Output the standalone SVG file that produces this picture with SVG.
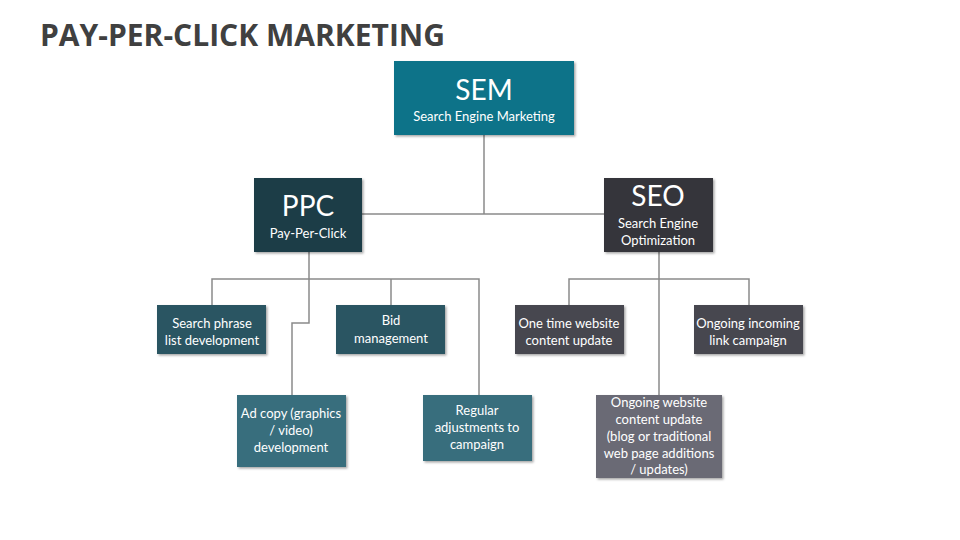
<svg xmlns="http://www.w3.org/2000/svg" width="960" height="540" viewBox="0 0 960 540">
<defs>
<filter id="sh" x="-10%" y="-10%" width="130%" height="130%">
<feDropShadow dx="1.5" dy="1.5" stdDeviation="1.2" flood-color="#000" flood-opacity="0.35"/>
</filter>
<style>
.t{font-family:Lato,"Open Sans",sans-serif;fill:#fff;text-anchor:middle}
.big{font-size:28px}
.sub{font-size:13px}
.c{font-size:13px}
.ln{fill:none;stroke:#8a8a8a;stroke-width:1.5}
.title{font-family:"Open Sans",sans-serif;font-weight:bold;font-size:30px;fill:#404040}
</style>
</defs>
<rect width="960" height="540" fill="#fff"/>
<text class="title" x="40" y="46" textLength="405" lengthAdjust="spacingAndGlyphs">PAY-PER-CLICK MARKETING</text>
<g id="connectors">
<path class="ln" d="M484 135V214M362 214H604"/>
<path class="ln" d="M309 252V323H292V395M212 305V279H479V395M391 279V305"/>
<path class="ln" d="M659 252V395M569 305V279H749V305"/>
</g>
<g id="sem">
<rect x="394" y="61" width="180" height="74" fill="#0d7389" filter="url(#sh)"/>
<text class="t big" x="484" y="100">SEM</text>
<text class="t sub" x="484" y="121">Search Engine Marketing</text>
</g>
<g id="ppc">
<rect x="254" y="178" width="108" height="74" fill="#1e3c46" filter="url(#sh)"/>
<text class="t big" x="308" y="216">PPC</text>
<text class="t sub" x="308" y="238">Pay-Per-Click</text>
</g>
<g id="seo">
<rect x="604" y="178" width="109" height="74" fill="#35353b" filter="url(#sh)"/>
<text class="t big" x="658" y="206">SEO</text>
<text class="t sub" x="658" y="228">Search Engine</text>
<text class="t sub" x="658" y="245">Optimization</text>
</g>
<g id="search-phrase">
<rect x="157" y="305" width="109" height="49" fill="#2a5462" filter="url(#sh)"/>
<text class="t c" x="212" y="328">Search phrase</text>
<text class="t c" x="212" y="345">list development</text>
</g>
<g id="bid">
<rect x="336" y="305" width="109" height="49" fill="#2a5462" filter="url(#sh)"/>
<text class="t c" x="391" y="325">Bid</text>
<text class="t c" x="391" y="343">management</text>
</g>
<g id="ad-copy">
<rect x="237" y="395" width="109" height="72" fill="#376e7d" filter="url(#sh)"/>
<text class="t c" x="291" y="418">Ad copy (graphics</text>
<text class="t c" x="291" y="435">/ video)</text>
<text class="t c" x="291" y="452">development</text>
</g>
<g id="regular">
<rect x="423" y="395" width="109" height="66" fill="#376e7d" filter="url(#sh)"/>
<text class="t c" x="477" y="415">Regular</text>
<text class="t c" x="477" y="432">adjustments to</text>
<text class="t c" x="477" y="449">campaign</text>
</g>
<g id="one-time">
<rect x="515" y="305" width="109" height="49" fill="#47474f" filter="url(#sh)"/>
<text class="t c" x="569" y="328">One time website</text>
<text class="t c" x="569" y="345">content update</text>
</g>
<g id="ongoing-link">
<rect x="694" y="305" width="109" height="49" fill="#47474f" filter="url(#sh)"/>
<text class="t c" x="748" y="328">Ongoing incoming</text>
<text class="t c" x="748" y="345">link campaign</text>
</g>
<g id="ongoing-website">
<rect x="596" y="395" width="126" height="83" fill="#6a6a74" filter="url(#sh)"/>
<text class="t c" x="659" y="407">Ongoing website</text>
<text class="t c" x="659" y="424">content update</text>
<text class="t c" x="659" y="441">(blog or traditional</text>
<text class="t c" x="659" y="458">web page additions</text>
<text class="t c" x="659" y="474">/ updates)</text>
</g>
</svg>
